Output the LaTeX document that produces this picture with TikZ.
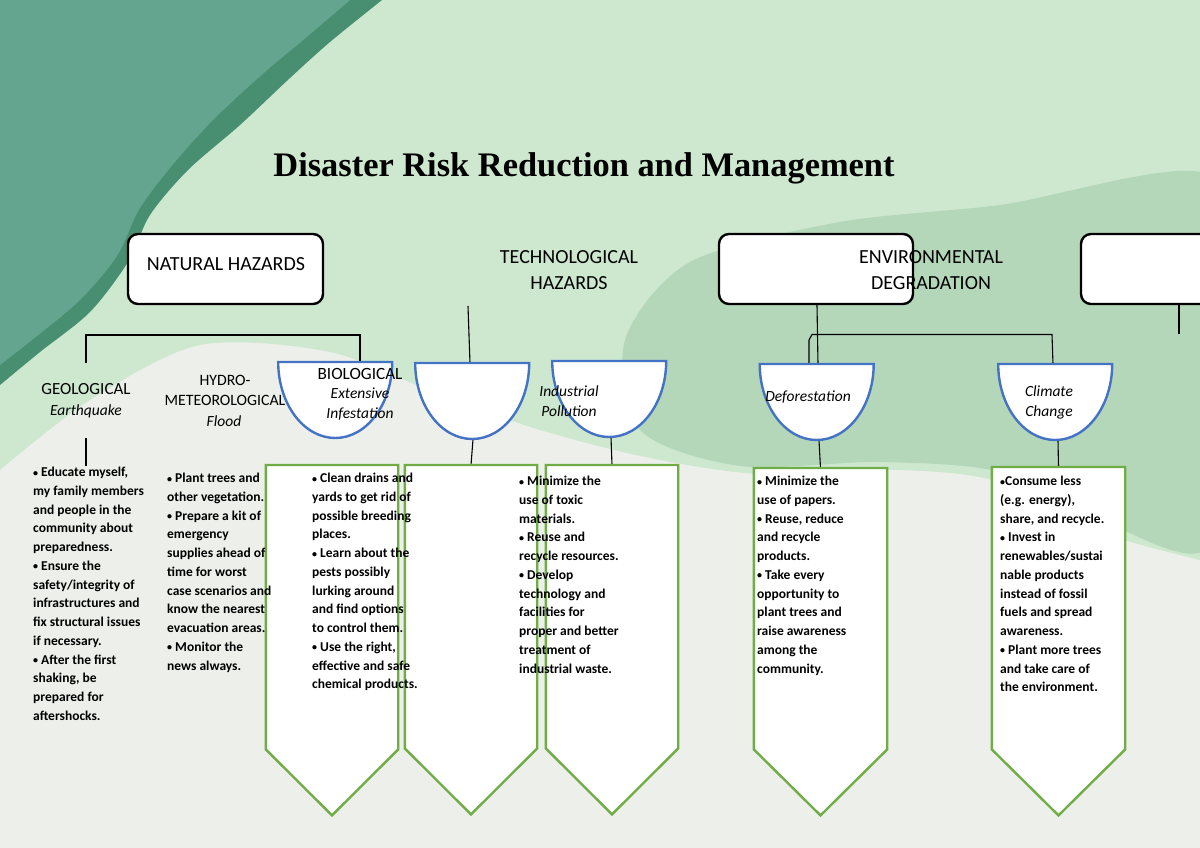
\documentclass[tikz,border=0pt]{standalone}
\usepackage{fontspec}
\setmainfont{Carlito}
\newfontfamily\titlefont{Liberation Serif}
\usetikzlibrary{calc}
\definecolor{paper}{RGB}{237,240,234}
\definecolor{lgreen}{RGB}{205,232,207}
\definecolor{mgreen}{RGB}{180,215,186}
\definecolor{teallight}{RGB}{100,165,143}
\definecolor{tealdark}{RGB}{72,143,113}
\definecolor{moonblue}{RGB}{68,114,196}
\definecolor{chevgreen}{RGB}{112,173,71}
\tikzset{
  hbox/.style={draw=black, line width=2.4pt, rounded corners=10pt, fill=white, inner sep=0},
  moon/.style={inner sep=0, minimum width=114, minimum height=76, anchor=north},
  moonline/.style={draw=moonblue, line width=2.4pt, fill=white},
  chevline/.style={draw=chevgreen, line width=2.4pt, fill=white, line join=miter},
  conn/.style={draw=black, line width=1.1pt},
  lbl/.style={font=\fontsize{20}{26}\selectfont, align=center, inner sep=0},
  sublbl/.style={font=\fontsize{15.5}{20}\selectfont\itshape, align=center, inner sep=0},
  body/.style={font=\fontsize{13.5}{18.75}\selectfont\bfseries, align=left, anchor=north west, inner sep=0},
}
\newcommand{\bul}{\raisebox{0.6pt}{\fontsize{10}{10}\selectfont •}}
\newcommand{\hmoon}[1]{\path[moonline] (#1.north east) arc[start angle=0,end angle=-180,x radius=57pt,y radius=76pt] -- cycle;}
\newcommand{\chevron}[1]{\path[chevline] (#1.north west) -- (#1.north east) -- ($(#1.south east)+(0,-66)$) -- (#1.south) -- ($(#1.south west)+(0,-66)$) -- cycle;}
\begin{document}
\begin{tikzpicture}[x=1pt,y=-1pt]
\useasboundingbox (0,0) rectangle (1200,848);
\clip (0,0) rectangle (1200,848);
% ---------- background ----------
\fill[paper] (0,0) rectangle (1200,848);
\fill[lgreen] (0,0) -- (1200,0) -- (1200,560) -- plot[smooth] coordinates {(1200,560) (1100,532) (1000,482) (900,470) (760,474) (650,458) (540,430) (440,395) (330,352) (200,345) (90,400) (0,470)} -- cycle;
\fill[mgreen] plot[smooth cycle] coordinates {(640,430) (625,340) (690,262) (840,222) (1000,205) (1210,175) (1215,330) (1210,545) (1100,520) (1000,472) (880,462) (740,466)};
\fill[tealdark] (0,0) -- (382,0) -- plot[smooth] coordinates {(382,0) (330,42) (290,78) (240,125) (188,170) (150,215) (128,262) (90,312) (40,352) (0,385)} -- cycle;
\fill[teallight] (0,0) -- (350,0) -- plot[smooth] coordinates {(350,0) (308,36) (265,72) (215,118) (175,162) (140,208) (117,256) (80,300) (32,340) (0,365)} -- cycle;
% ---------- title ----------
\node[inner sep=0, font=\titlefont\fontsize{34.4}{38}\selectfont\bfseries] (title) at (584,168) {Disaster Risk Reduction and Management};
% ---------- top boxes ----------
\node[hbox, minimum width=195, minimum height=70] (nat) at (225.5,269) {};
\node[hbox, minimum width=194, minimum height=70] (env) at (816,269) {};
\node[hbox, minimum width=194, minimum height=70] (other) at (1178,269) {};
% ---------- half moons ----------
\node[moon, minimum width=115] (bio) at (334.5,362) {};
\node[moon] (tech1) at (472,363) {};
\node[moon] (tech2) at (609,361) {};
\node[moon] (defo) at (816.5,364) {};
\node[moon] (clim) at (1055,364) {};
% ---------- chevrons ----------
\node[inner sep=0, minimum width=132, minimum height=350, anchor=north] (cbio) at (332,465) {};
\node[inner sep=0, minimum width=132, minimum height=349, anchor=north] (ct1) at (471,465) {};
\node[inner sep=0, minimum width=132, minimum height=349, anchor=north] (ct2) at (612,465) {};
\node[inner sep=0, minimum width=133, minimum height=347, anchor=north] (cdefo) at (820.5,468) {};
\node[inner sep=0, minimum width=133, minimum height=348, anchor=north] (cclim) at (1058.5,467) {};
% ---------- connectors ----------
\coordinate (geotop) at (86,363);
\coordinate (geobot1) at (86,438);
\coordinate (geobot2) at (86,466);
\coordinate (techtop) at (468,306);
\coordinate (envleft) at (809,363);
\coordinate (otherend) at (1179,334);
\path[conn] (geotop) |- (360,335) -- (bio.north -| 360,0);
\path[conn] (geobot1) -- (geobot2);
\path[conn] (techtop) -- (469,335) -- (tech1.north -| 470,0);
\path[conn] (env.south -| 817,0) -- (defo.north -| 818,0);
\path[conn] (envleft) -- (809,340) -- (812,334.5) -- (1052,334.5) -- (clim.north -| 1053,0);
\path[conn] (other.south -| 1179,0) -- (otherend);
\path[conn] (tech1.south) ++(1,0) -- (ct1.north);
\path[conn] (tech2.south) ++(2,0) -- (ct2.north);
\path[conn] (defo.south) ++(2.5,0) -- (cdefo.north);
\path[conn] (clim.south) ++(3,0) -- (cclim.north);
% shapes
\hmoon{bio}
\hmoon{tech1}
\hmoon{tech2}
\hmoon{defo}
\hmoon{clim}
\chevron{cbio}
\chevron{ct1}
\chevron{ct2}
\chevron{cdefo}
\chevron{cclim}
% ---------- labels ----------
\node[lbl] (natT) at (226,264) {NATURAL HAZARDS};
\node[lbl] (techT) at (569,270) {TECHNOLOGICAL\\HAZARDS};
\node[lbl] (envT) at (931,270) {ENVIRONMENTAL\\DEGRADATION};
\node[lbl, font=\fontsize{17}{20}\selectfont] (geoT) at (86,389) {GEOLOGICAL};
\node[sublbl] (geoS) at (86,411) {Earthquake};
\node[lbl, font=\fontsize{15.8}{20}\selectfont] (hydT) at (225,390) {HYDRO-\\METEOROLOGICAL};
\node[sublbl] (hydS) at (224,421) {Flood};
\node[lbl, font=\fontsize{17.2}{20}\selectfont] (bioT) at (360,374) {BIOLOGICAL};
\node[sublbl] (bioS) at (360,404) {Extensive\\Infestation};
\node[sublbl] (indS) at (569,401) {Industrial\\Pollution};
\node[sublbl] (defS) at (808,397) {Deforestation};
\node[sublbl] (climS) at (1049,402) {Climate\\Change};
% ---------- body texts ----------
\node[body] (b1) at (33,467) {\bul{} Educate myself,\\my family members\\and people in the\\community about\\preparedness.\\\bul{} Ensure the\\safety/integrity of\\infrastructures and\\fix structural issues\\if necessary.\\\bul{} After the first\\shaking, be\\prepared for\\aftershocks.};
\node[body] (b2) at (167,473) {\bul{} Plant trees and\\other vegetation.\\\bul{} Prepare a kit of\\emergency\\supplies ahead of\\time for worst\\case scenarios and\\know the nearest\\evacuation areas.\\\bul{} Monitor the\\news always.};
\node[body] (b3) at (312,473) {\bul{} Clean drains and\\yards to get rid of\\possible breeding\\places.\\\bul{} Learn about the\\pests possibly\\lurking around\\and find options\\to control them.\\\bul{} Use the right,\\effective and safe\\chemical products.};
\node[body] (b4) at (519,476) {\bul{} Minimize the\\use of toxic\\materials.\\\bul{} Reuse and\\recycle resources.\\\bul{} Develop\\technology and\\facilities for\\proper and better\\treatment of\\industrial waste.};
\node[body] (b5) at (757,476) {\bul{} Minimize the\\use of papers.\\\bul{} Reuse, reduce\\and recycle\\products.\\\bul{} Take every\\opportunity to\\plant trees and\\raise awareness\\among the\\community.};
\node[body] (b6) at (1000,476) {\bul{}Consume less\\(e.g. energy),\\share, and recycle.\\\bul{} Invest in\\renewables/sustai\\nable products\\instead of fossil\\fuels and spread\\awareness.\\\bul{} Plant more trees\\and take care of\\the environment.};
\end{tikzpicture}
\end{document}
